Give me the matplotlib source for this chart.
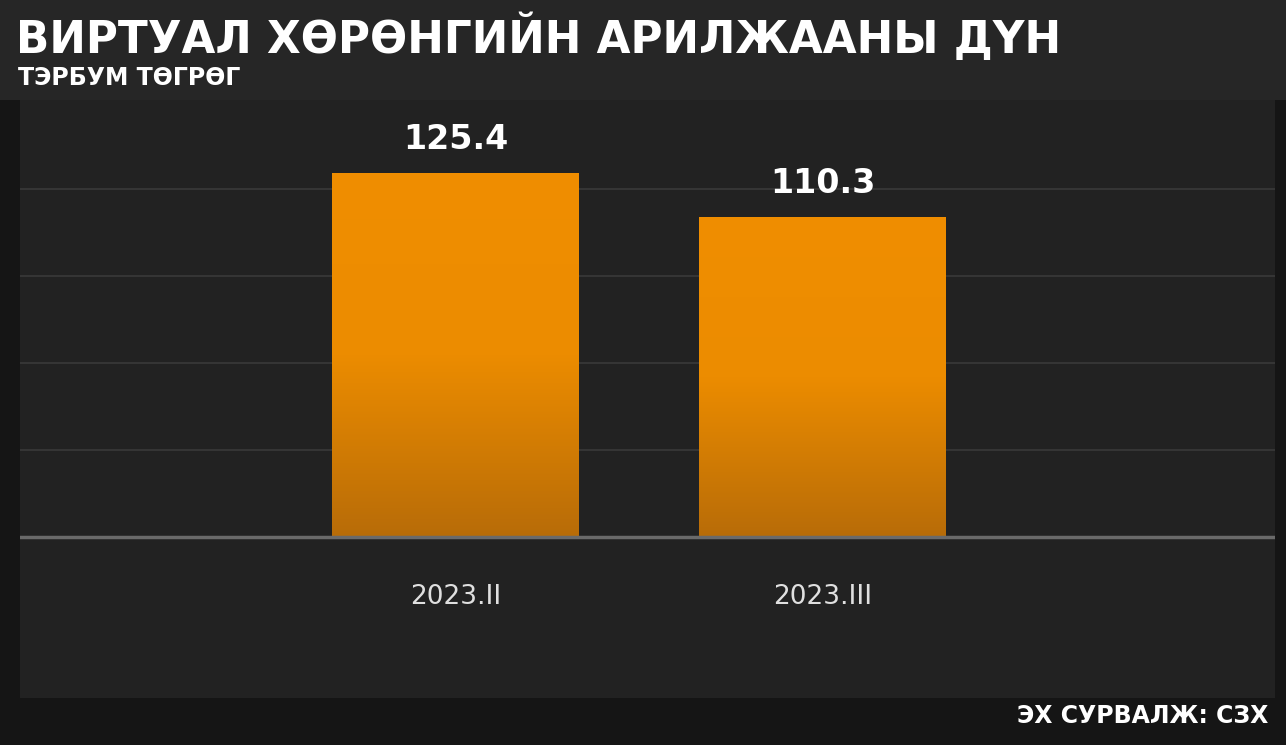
import numpy as np
import matplotlib.pyplot as plt
from matplotlib.patches import Rectangle
from matplotlib.colors import LinearSegmentedColormap

periods = ["2023.II", "2023.III"]
values = [125.4, 110.3]
grid_levels = [30, 60, 90, 120]

fig = plt.figure(figsize=(12.86, 7.45), dpi=100)
fig.patch.set_facecolor("#151515")

# title band
fig.patches.append(Rectangle((0, 1 - 100 / 745), 1, 100 / 745, transform=fig.transFigure,
                             facecolor="#262626", zorder=0))
fig.text(16 / 1286, 1 - 38 / 745, "ВИРТУАЛ ХӨРӨНГИЙН АРИЛЖААНЫ ДҮН", color="white",
         fontsize=31.5, fontweight="heavy", family="DejaVu Sans", va="center")
fig.text(18 / 1286, 1 - 78 / 745, "ТЭРБУМ ТӨГРӨГ", color="white",
         fontsize=17, fontweight="bold", family="DejaVu Sans", va="center")
fig.text(1268 / 1286, 1 - 716 / 745, "ЭХ СУРВАЛЖ: СЗХ", color="white",
         fontsize=17, fontweight="bold", ha="right", va="center")

ax = fig.add_axes([20 / 1286, 47 / 745, 1255 / 1286, 598 / 745])
ax.set_facecolor("#222222")
for s in ax.spines.values():
    s.set_visible(False)
ax.set_xticks([])
ax.set_yticks([])

for g in grid_levels:
    ax.axhline(g, color="#3a3a3a", lw=1.2, zorder=1)
ax.axhline(0, color="#6a6a6a", lw=2.5, zorder=4)

grad = np.linspace(0, 1, 256).reshape(-1, 1)
cmap = LinearSegmentedColormap.from_list("o", ["#b86c08", "#ec8c00", "#f08e00"])
w = 0.673
for i, v in enumerate(values):
    bar = ax.bar(i, v, width=w, color="#ec8c00", zorder=2)[0]
    im = ax.imshow(grad, cmap=cmap, aspect="auto", origin="lower",
                   extent=(i - w / 2, i + w / 2, 0, v), zorder=3)
    im.set_clip_path(bar)
    ax.text(i, v + 6, f"{v:.1f}", ha="center", va="bottom", color="white",
            fontsize=24, fontweight="bold")
    ax.text(i, -20.7, periods[i], ha="center", va="center", color="#e0e0e0", fontsize=19)

ax.set_xlim(-1.188, 2.232)
ax.set_ylim(-55.5, 150.7)
fig.savefig("out.png", dpi=100, facecolor=fig.get_facecolor())
